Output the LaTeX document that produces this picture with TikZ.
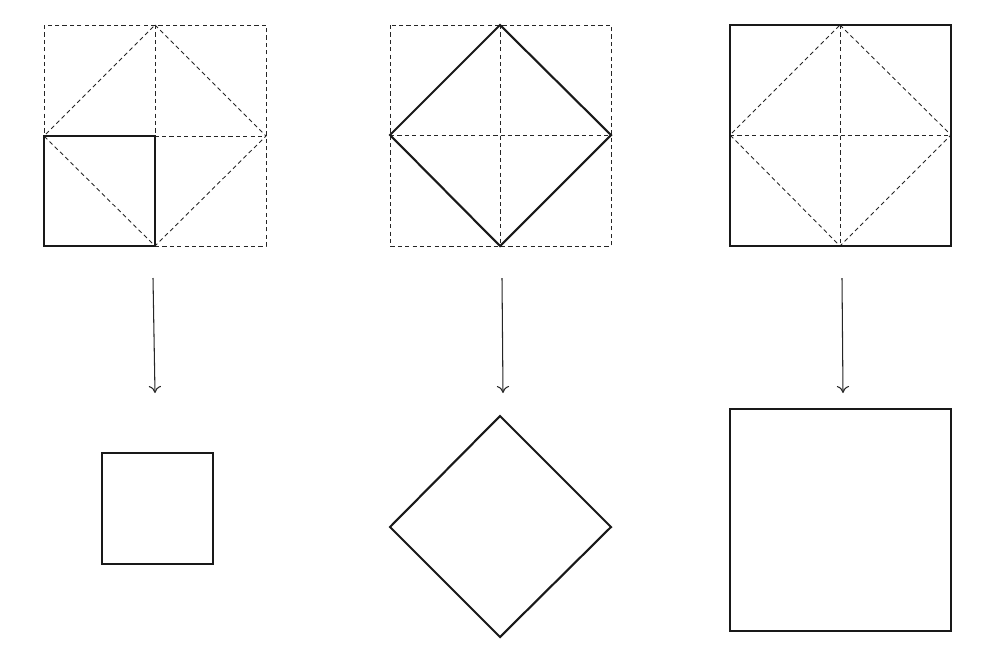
\documentclass[tikz,border=0pt]{standalone}
\usetikzlibrary{arrows.meta}
\begin{document}
\begin{tikzpicture}[x=0.02cm,y=-0.02cm,
  guide/.style={draw=black!85,line width=0.5pt,dash pattern=on 2.4pt off 1.8pt},
  bold/.style={draw=black!90,line width=1.2pt,line join=miter},
  conn/.style={draw=black!85,line width=0.6pt,-{To[length=4pt,width=7pt]}}]
\useasboundingbox (0,0) rectangle (984,663);
% grid helper coordinates
\foreach \n/\l/\t in {g1/44/25, g2/390/25, g3/730/25}{
  \coordinate (\n nw) at (\l,\t);
}
% ---- panel 1 ----
\draw[guide] (44,25) rectangle (266,246);
\draw[guide] (155,25) -- (155,246);
\draw[guide] (44,136) -- (266,136);
\draw[guide] (155,25) -- (266,136) -- (155,246) -- (44,136) -- cycle;
\draw[bold] (44,136) rectangle (155,246);
% ---- panel 2 ----
\draw[guide] (390,25) rectangle (611,246);
\draw[guide] (500,25) -- (500,246);
\draw[guide] (390,135) -- (611,135);
\draw[bold] (500,25) -- (611,135) -- (500,246) -- (390,135) -- cycle;
% ---- panel 3 ----
\draw[guide] (840,25) -- (840,246);
\draw[guide] (730,135) -- (951,135);
\draw[guide] (840,25) -- (951,135) -- (840,246) -- (730,135) -- cycle;
\draw[bold] (730,25) rectangle (951,246);
% ---- arrows ----
\coordinate (a1s) at (153,278); \coordinate (a1e) at (155,393);
\coordinate (a2s) at (502,278); \coordinate (a2e) at (503,393);
\coordinate (a3s) at (842,278); \coordinate (a3e) at (843,393);
\draw[conn] (a1s) -- (a1e);
\draw[conn] (a2s) -- (a2e);
\draw[conn] (a3s) -- (a3e);
% ---- results ----
\draw[bold] (102,453) rectangle (213,564);
\draw[bold] (500,416) -- (611,527) -- (500,637) -- (390,527) -- cycle;
\draw[bold] (730,409) rectangle (951,631);
\end{tikzpicture}
\end{document}
